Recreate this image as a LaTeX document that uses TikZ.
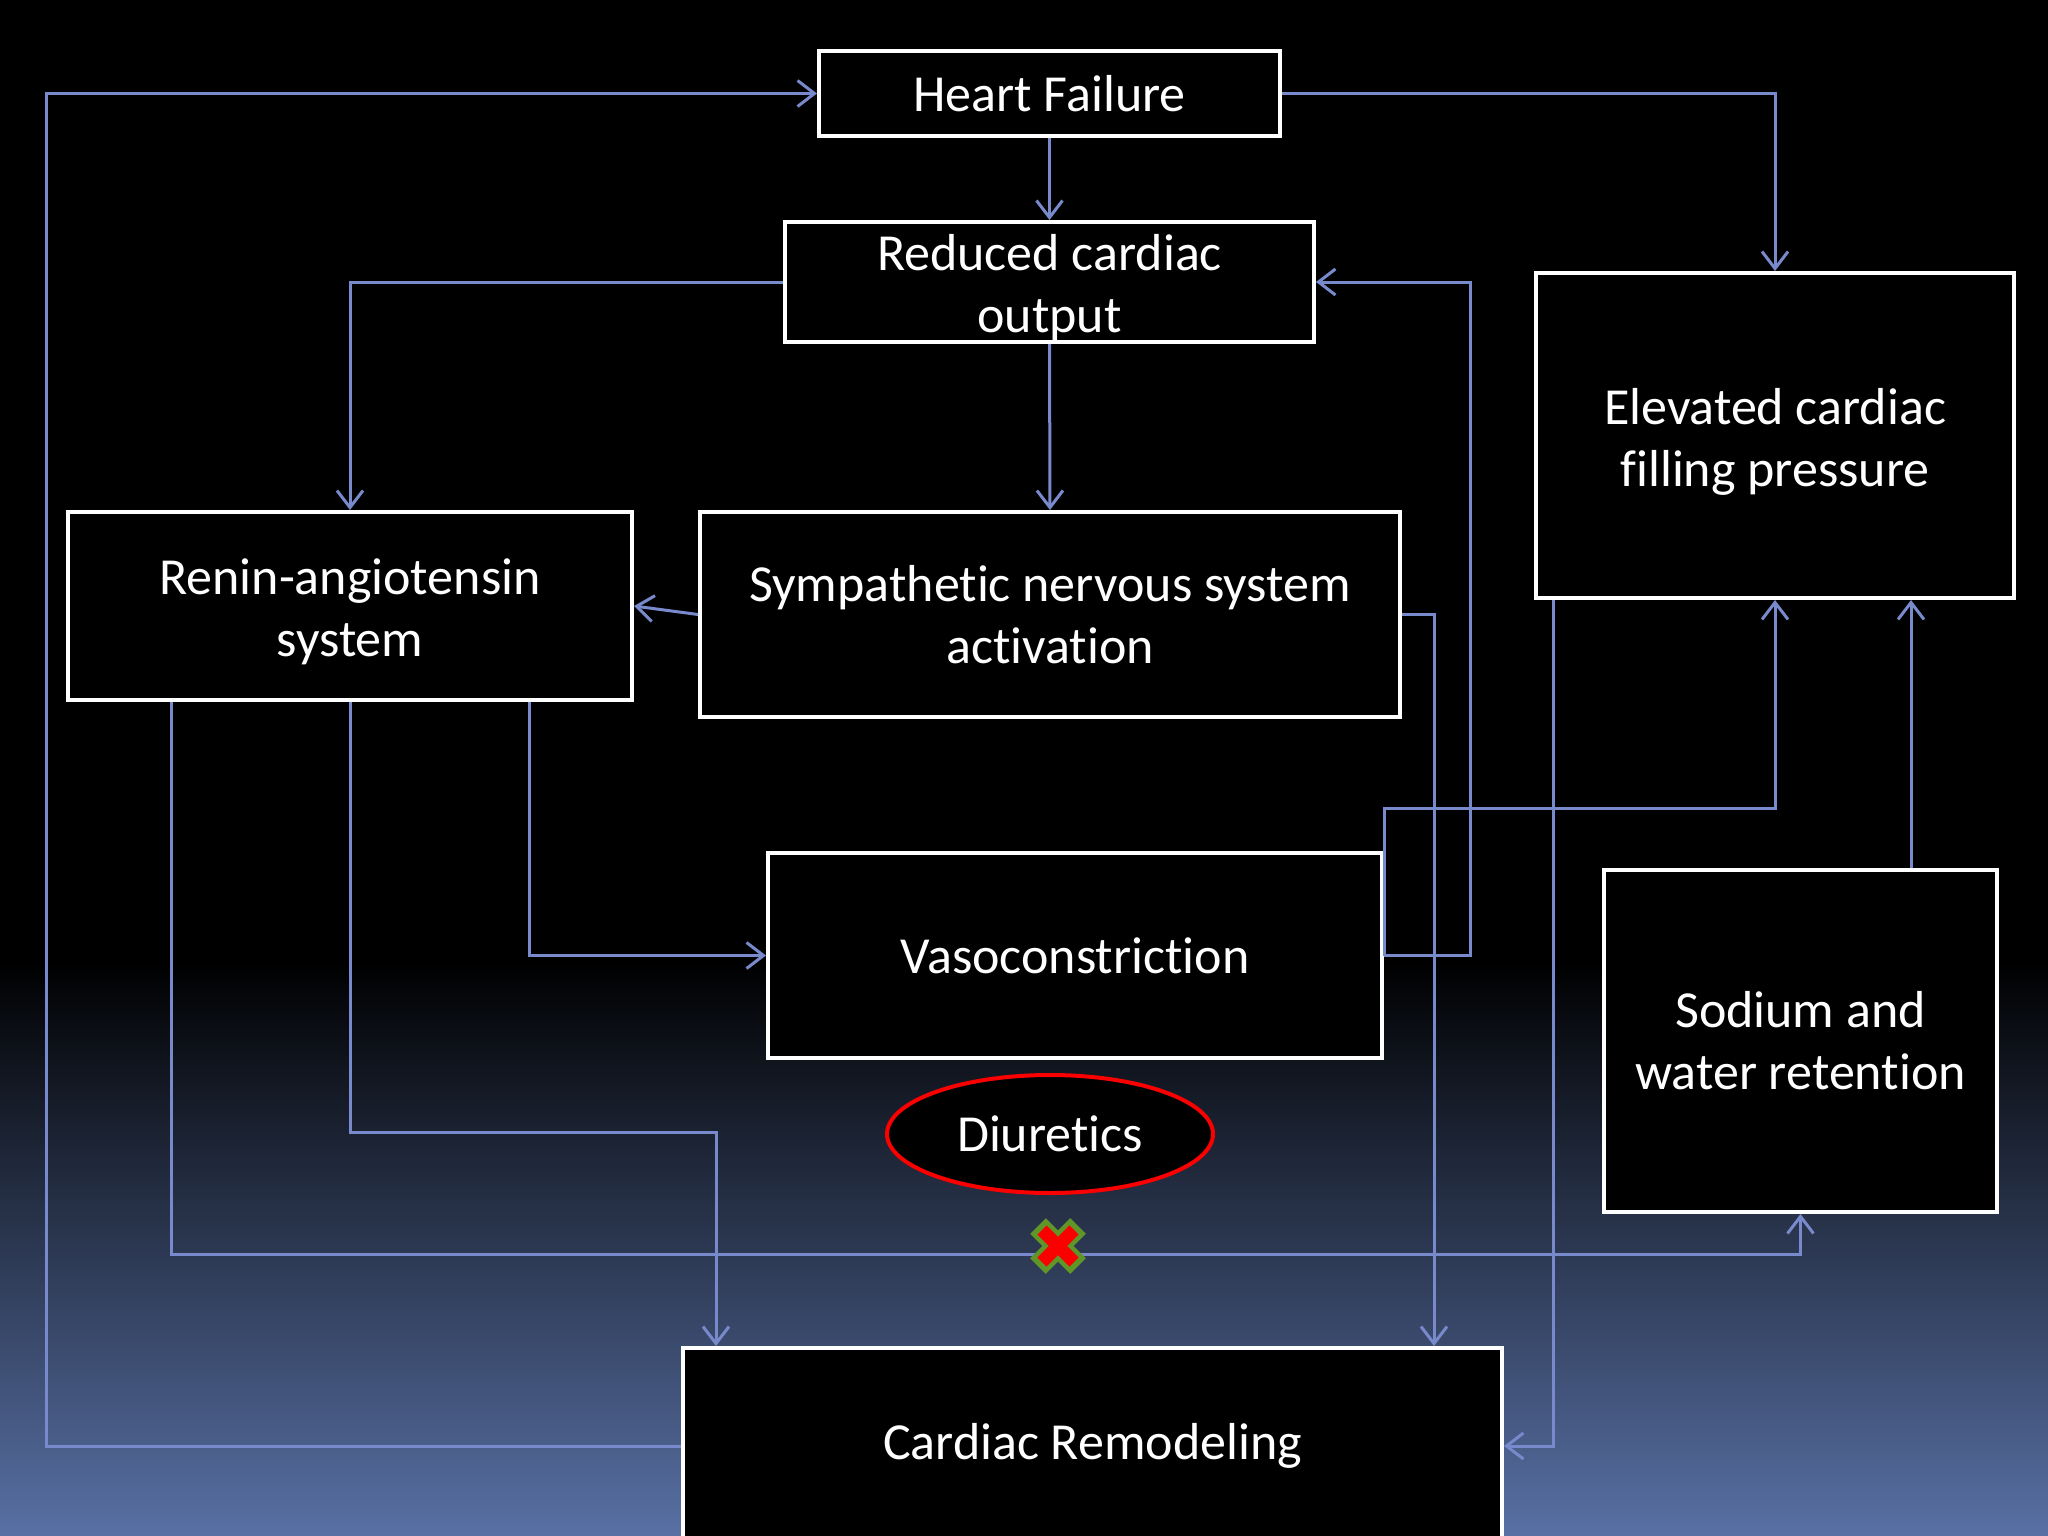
\documentclass[tikz,border=0pt]{standalone}
\usepackage{fontspec}
\setmainfont{Carlito}
\usetikzlibrary{arrows.meta,shapes.geometric,calc}
\definecolor{conncol}{RGB}{120,138,204}
\definecolor{bgbottom}{RGB}{88,112,164}
\definecolor{xgreen}{RGB}{96,150,40}
\definecolor{xred}{RGB}{250,0,0}
\newcommand{\nolig}{\kern0pt }
\begin{document}
\begin{tikzpicture}[x=1pt,y=-1pt,
  box/.style={draw=white, line width=4pt, fill=black, text=white, inner sep=0pt,
    align=center, font=\fontsize{52}{62}\selectfont},
  conn/.style={draw=conncol, line width=3pt, line join=miter},
  arr/.style={conn, -{Straight Barb[length=17pt,width=26pt,line width=3pt]}}]
\useasboundingbox (0,0) rectangle (2048,1536);
\fill[black] (0,0) rectangle (2048,1536);
\shade[top color=black, bottom color=bgbottom] (0,960) rectangle (2048,1536);

% nodes
\node[box, minimum width=461pt, minimum height=85pt] (hf) at (1049.5,93.5) {Heart Failure};
\node[box, minimum width=529pt, minimum height=120pt] (rco) at (1049.5,282) {\rule{0pt}{48pt}Reduced cardiac\\output};
\node[box, minimum width=478pt, minimum height=325pt] (ecfp) at (1775,435.5) {\rule{0pt}{48pt}Elevated cardiac\\f\nolig illing pressure};
\node[box, minimum width=564pt, minimum height=188pt] (ras) at (350,606) {\rule{0pt}{48pt}Renin-angiotensin\\system};
\node[box, minimum width=700pt, minimum height=205pt] (sns) at (1050,614.5) {Sympathet\nolig ic nervous system\\act\nolig ivat\nolig ion};
\node[box, minimum width=614pt, minimum height=205pt] (vaso) at (1075,955.5) {Vasoconstrict\nolig ion};
\node[box, minimum width=393pt, minimum height=342pt] (swr) at (1800.5,1041) {Sodium and\\water retent\nolig ion};
\node[box, minimum width=819pt, minimum height=196pt] (cr) at (1092.5,1446) {Cardiac Remodeling};
\node[box, draw=xred, ellipse, minimum width=326pt, minimum height=118pt] (diu) at (1050,1134) {Diuret\nolig ics};

% helper coordinates
\coordinate (xl) at (46,0);
\coordinate (x171) at (171,0);
\coordinate (x529) at (529,0);
\coordinate (x716) at (716,0);
\coordinate (x1434) at (1434,0);
\coordinate (x1470) at (1470,0);
\coordinate (x1553) at (1553,0);
\coordinate (x1911) at (1911,0);
\coordinate (y808) at (0,808);
\coordinate (y1132) at (0,1132);
\coordinate (y1254) at (0,1254);

% connectors
\draw[arr] (cr.west) -- (xl |- cr.west) -- (xl |- hf.west) -- (hf.west);
\draw[arr] (hf.south) -- (rco.north);
\draw[arr] (hf.east) -| (ecfp.north);
\draw[arr] (rco.west) -| (ras.north);
\draw[arr] (rco.south) -- (sns.north);
\draw[arr] (sns.west) -- (ras.east);
\draw[arr] (sns.east) -| (cr.north -| x1434);
\draw[arr] (ras.south -| x529) |- (vaso.west);
\draw[arr] (ras.south) -- (ras.south |- y1132) -| (cr.north -| x716);
\draw[arr] (ras.south -| x171) -- (x171 |- y1254) -| (swr.south);
\draw[arr] (vaso.east) -- (vaso.east |- y808) -| (ecfp.south);
\draw[arr] (vaso.east) -- (x1470 |- vaso.east) |- (rco.east);
\draw[arr] (ecfp.south -| x1553) |- (cr.east);
\draw[arr] (swr.north -| x1911) -- (ecfp.south -| x1911);

% X mark
\coordinate (xm) at (1058,1246);
\draw[xgreen, line width=22pt] ($(xm)+(-20,-20)$) -- ($(xm)+(20,20)$);
\draw[xgreen, line width=22pt] ($(xm)+(-20,20)$) -- ($(xm)+(20,-20)$);
\draw[xred, line width=13pt] ($(xm)+(-16,-16)$) -- ($(xm)+(16,16)$);
\draw[xred, line width=13pt] ($(xm)+(-16,16)$) -- ($(xm)+(16,-16)$);
\end{tikzpicture}
\end{document}
